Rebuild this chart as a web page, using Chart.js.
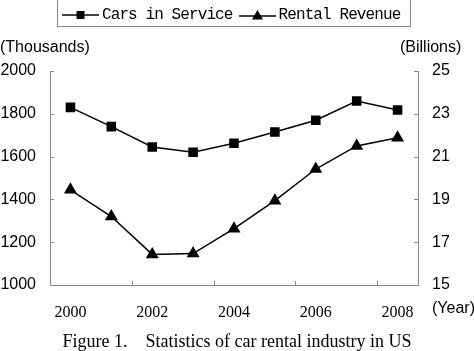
<!DOCTYPE html>
<html>
<head>
<meta charset="utf-8">
<script src="https://cdn.jsdelivr.net/npm/chart.js@4/dist/chart.umd.min.js"></script>
<style>
  body { margin: 0; background: #fff; }
  #wrap { position: relative; width: 474px; height: 351px; overflow: hidden; }
  #myChart { position: absolute; left: 0; top: 0; }
  .lbl { position: absolute; font-family: "Liberation Sans", Arial, sans-serif; font-size: 16px; color: #000; white-space: nowrap; }
  #legend {
    position: absolute; left: 57px; top: -1px; width: 354px; height: 28px;
    border: 1px solid #888; box-sizing: border-box;
    font-family: "Liberation Mono", monospace; font-size: 16px; letter-spacing: -0.9px; color: #000;
    display: flex; align-items: center; padding-left: 4px; padding-top: 3px; white-space: nowrap;
  }
  #legend svg { margin-right: 3px; }
  #caption { position: absolute; left: 0; width: 474px; top: 331px; text-align: center;
    font-family: "Liberation Serif", "Times New Roman", serif; font-size: 18px; color: #000; white-space: pre; }
</style>
</head>
<body>
<div id="wrap">
  <canvas id="myChart" width="474" height="351"></canvas>
  <div id="legend">
    <svg width="37" height="12"><line x1="0" y1="6" x2="37" y2="6" stroke="#000" stroke-width="1.5"/><rect x="14.5" y="2" width="8" height="8" fill="#000"/></svg>
    <span>Cars in Service</span>
    <svg width="37" height="12" style="margin-left:6px"><line x1="0" y1="7" x2="37" y2="7" stroke="#000" stroke-width="1.5"/><polygon points="18.5,1 24,10.5 13,10.5" fill="#000"/></svg>
    <span>Rental Revenue</span>
  </div>
  <div class="lbl" style="left:0px; top:38px;">(Thousands)</div>
  <div class="lbl" style="left:400px; top:38px;">(Billions)</div>
  <div class="lbl" style="left:432px; top:299px;">(Year)</div>
  <div id="caption">Figure 1.    Statistics of car rental industry in US</div>
</div>
<script>
var years = ["2000", "2001", "2002", "2003", "2004", "2005", "2006", "2007", "2008"];
var carsInService = [1830, 1740, 1645, 1620, 1662, 1715, 1770, 1860, 1818];
var rentalRevenue = [19.45, 18.2, 16.43, 16.47, 17.63, 18.94, 20.42, 21.5, 21.88];
var leftTicks = [1000, 1200, 1400, 1600, 1800, 2000];
var rightTicks = [15, 17, 19, 21, 23, 25];

// tick marks drawn inward, like the original
const innerTicks = {
  id: "innerTicks",
  afterDraw(chart) {
    const ctx = chart.ctx;
    const x = chart.scales.x, yL = chart.scales.y, yR = chart.scales.y1;
    ctx.save();
    ctx.strokeStyle = "#888";
    ctx.lineWidth = 1;
    ctx.beginPath();
    for (let i = 1; i < years.length - 1; i += 2) {
      const px = Math.round((x.getPixelForValue(i) + x.getPixelForValue(i + 1)) / 2) + 0.5;
      ctx.moveTo(px, x.top);
      ctx.lineTo(px, x.top - 4);
    }
    leftTicks.forEach((v) => {
      const py = Math.round(yL.getPixelForValue(v)) + 0.5;
      ctx.moveTo(yL.right, py);
      ctx.lineTo(yL.right + 4, py);
    });
    rightTicks.forEach((v) => {
      const py = Math.round(yR.getPixelForValue(v)) + 0.5;
      ctx.moveTo(yR.left, py);
      ctx.lineTo(yR.left - 4, py);
    });
    ctx.stroke();
    ctx.restore();
  },
};

function initChart() {
  const ctx = document.getElementById("myChart").getContext("2d");
  const myChart = new Chart(ctx, {
    type: "line",
    data: {
      labels: years,
      datasets: [
        {
          label: "Cars in Service",
          data: carsInService,
          yAxisID: "y",
          borderColor: "#000",
          backgroundColor: "#000",
          borderWidth: 1.5,
          pointStyle: "rect",
          pointRadius: 5.7,
          pointHoverRadius: 5.7,
          tension: 0,
        },
        {
          label: "Rental Revenue",
          data: rentalRevenue,
          yAxisID: "y1",
          borderColor: "#000",
          backgroundColor: "#000",
          borderWidth: 1.5,
          pointStyle: "triangle",
          pointRadius: 6,
          pointHoverRadius: 6,
          tension: 0,
        },
      ],
    },
    options: {
      responsive: false,
      animation: false,
      layout: { padding: { top: 71, left: 0, right: 0, bottom: 0 } },
      plugins: { legend: { display: false }, tooltip: { enabled: false } },
      scales: {
        x: {
          offset: true,
          grid: { display: false, drawTicks: false },
          border: { color: "#888", width: 1 },
          ticks: {
            autoSkip: false,
            maxRotation: 0,
            padding: 18,
            color: "#000",
            font: { family: "Liberation Serif", size: 16 },
            callback: function (val, i) { return i % 2 === 0 ? years[i] : ""; },
          },
          afterFit: (s) => { s.height = 66; },
        },
        y: {
          position: "left",
          min: 1000,
          max: 2000,
          grid: { display: false, drawTicks: false },
          border: { color: "#888", width: 1 },
          afterBuildTicks: (s) => { s.ticks = leftTicks.map((v) => ({ value: v })); },
          ticks: {
            padding: 14,
            color: "#000",
            font: { family: "Liberation Sans", size: 16 },
            callback: (v) => String(v),
          },
          afterFit: (s) => { s.width = 50; },
        },
        y1: {
          position: "right",
          min: 15,
          max: 25,
          grid: { display: false, drawTicks: false },
          border: { color: "#888", width: 1 },
          afterBuildTicks: (s) => { s.ticks = rightTicks.map((v) => ({ value: v })); },
          ticks: {
            padding: 14,
            color: "#000",
            font: { family: "Liberation Sans", size: 16 },
            callback: (v) => String(v),
          },
          afterFit: (s) => { s.width = 56; },
        },
      },
    },
    plugins: [innerTicks],
  });
}

initChart();
</script>
</body>
</html>
